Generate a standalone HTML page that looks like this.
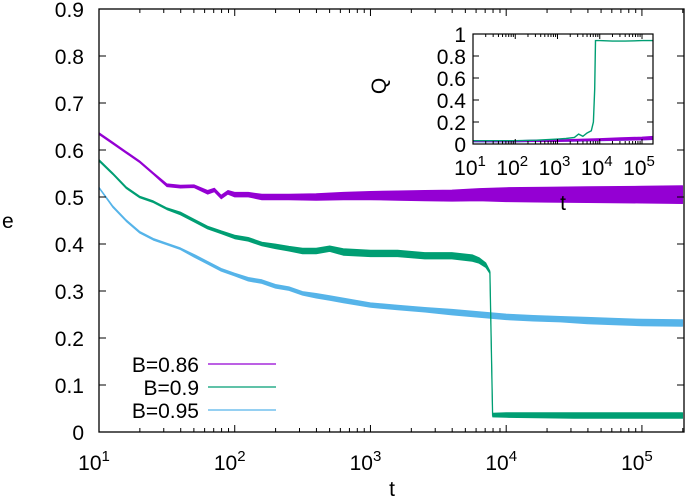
<!DOCTYPE html>
<html><head><meta charset="utf-8"><style>
body{margin:0;background:#fff}
svg{display:block;font-family:"Liberation Sans",sans-serif}
</style></head><body>
<svg id="c" width="685" height="498" viewBox="0 0 685 498"></svg>
<script>
// main series: log10(t), mean e, noise half-amplitude
const tP=[1,1.1,1.2,1.3,1.4,1.5,1.6,1.7,1.8,1.85,1.9,1.95,2.0,2.1,2.2,2.4,2.6,2.8,3.0,3.2,3.4,3.6,3.8,4.0,4.3,4.6,5.0,5.3];
const eP=[0.635,0.615,0.595,0.575,0.55,0.525,0.522,0.523,0.51,0.515,0.50,0.51,0.505,0.505,0.50,0.50,0.50,0.502,0.503,0.503,0.503,0.503,0.505,0.505,0.505,0.505,0.505,0.505];
const aP=[0.002,0.002,0.002,0.002,0.002,0.003,0.003,0.003,0.004,0.004,0.004,0.004,0.005,0.005,0.006,0.006,0.007,0.008,0.009,0.01,0.011,0.012,0.013,0.015,0.016,0.017,0.018,0.019];
const tG=[1,1.1,1.2,1.3,1.4,1.5,1.6,1.7,1.8,1.9,2.0,2.1,2.2,2.3,2.4,2.5,2.6,2.7,2.8,3.0,3.2,3.4,3.6,3.75,3.8,3.85,3.88,3.9,4.0,4.5,5.0,5.3];
const eG=[0.578,0.55,0.52,0.50,0.49,0.475,0.465,0.45,0.435,0.425,0.415,0.41,0.40,0.395,0.39,0.385,0.385,0.39,0.383,0.38,0.38,0.375,0.375,0.37,0.365,0.355,0.34,0.036,0.036,0.035,0.035,0.035];
const aG=[0.002,0.002,0.002,0.002,0.002,0.002,0.003,0.003,0.003,0.003,0.004,0.004,0.004,0.005,0.005,0.006,0.006,0.006,0.007,0.007,0.007,0.007,0.007,0.007,0.006,0.005,0.003,0.004,0.005,0.006,0.006,0.006];
const tB=[1,1.1,1.2,1.3,1.4,1.5,1.6,1.7,1.8,1.9,2.0,2.1,2.2,2.3,2.4,2.5,2.6,2.7,2.8,2.9,3.0,3.2,3.4,3.6,3.8,4.0,4.2,4.4,4.6,4.8,5.0,5.3];
const eB=[0.52,0.48,0.45,0.425,0.41,0.40,0.39,0.375,0.36,0.345,0.335,0.325,0.32,0.31,0.305,0.295,0.29,0.285,0.28,0.275,0.27,0.265,0.26,0.255,0.25,0.245,0.242,0.24,0.237,0.235,0.233,0.232];
const aB=[0.001,0.002,0.002,0.002,0.002,0.002,0.002,0.003,0.003,0.003,0.003,0.004,0.004,0.004,0.004,0.004,0.005,0.005,0.005,0.005,0.005,0.005,0.005,0.006,0.006,0.006,0.006,0.006,0.007,0.007,0.007,0.007];
// inset Q
const qtP=[1,1.5,2,2.5,3,3.5,4,4.5,5,5.26];
const qP=[0.025,0.025,0.025,0.03,0.03,0.035,0.04,0.045,0.05,0.055];
const qaP=[0.004,0.005,0.006,0.007,0.008,0.009,0.01,0.012,0.014,0.015];
const qtB=[1,1.5,2,2.5,3,3.5,4,4.5,5,5.26];
const qB=[0.02,0.02,0.022,0.025,0.028,0.03,0.035,0.04,0.045,0.05];
const qaB=[0.003,0.003,0.004,0.004,0.005,0.006,0.007,0.008,0.009,0.01];
const qtG=[1,1.5,2,2.5,3,3.2,3.4,3.5,3.6,3.7,3.8,3.85,3.88,3.9,4.0,4.3,4.6,5.0,5.26];
const qG=[0.03,0.03,0.03,0.035,0.045,0.05,0.06,0.09,0.07,0.1,0.12,0.2,0.5,0.94,0.94,0.935,0.935,0.94,0.94];
const yTicks=[0,0.1,0.2,0.3,0.4,0.5,0.6,0.7,0.8,0.9];
const yTickLabels=["0","0.1","0.2","0.3","0.4","0.5","0.6","0.7","0.8","0.9"];
const qTicks=[0,0.2,0.4,0.6,0.8,1];
const qTickLabels=["0","0.2","0.4","0.6","0.8","1"];
const xDecades=[1,2,3,4,5];

const NS="http://www.w3.org/2000/svg",svg=document.getElementById('c');
function mk(t,a,p){const e=document.createElementNS(NS,t);for(const k in a)e.setAttribute(k,a[k]);(p||svg).appendChild(e);return e;}
const L=99,R=684,T=9,B=432,LMAX=5.31;
const X=l=>L+(l-1)/(LMAX-1)*(R-L), Y=v=>B-v/0.9*(B-T);
const iL=473,iR=653,iT=34,iB=144,ILMAX=5.26;
const IX=l=>iL+(l-1)/(ILMAX-1)*(iR-iL), IY=v=>iB-v*(iB-iT);

function series(ts,vs,as,fx,fy,col,w,name){
 if(as){const up=ts.map((t,i)=>fx(t).toFixed(1)+','+fy(vs[i]+as[i]).toFixed(1));
  const dn=ts.map((t,i)=>fx(t).toFixed(1)+','+fy(vs[i]-as[i]).toFixed(1)).reverse();
  const b=mk('polygon',{points:up.concat(dn).join(' '),fill:col,stroke:col,'stroke-width':0.8,'stroke-linejoin':'round'});
  
  }
 const p=mk('path',{d:ts.map((t,i)=>(i?'L':'M')+fx(t).toFixed(1)+' '+fy(vs[i]).toFixed(1)).join(''),fill:'none',stroke:col,'stroke-width':w});
 
 }
const cP='#9400d3',cG='#009e73',cB='#56b4e9';
series(tB,eB,aB,X,Y,cB,1.3,'series-b095');
series(tG,eG,aG,X,Y,cG,1.3,'series-b09');
series(tP,eP,aP,X,Y,cP,1.3,'series-b086');

const fr=mk('rect',{x:L,y:T,width:R-L,height:B-T,fill:'none',stroke:'#000','stroke-width':1.3});


yTicks.forEach((v,i)=>{const y=Y(v);mk('line',{x1:L,x2:L+7,y1:y,y2:y,stroke:'#000'});mk('line',{x1:R,x2:R-7,y1:y,y2:y,stroke:'#000'});
const t=mk('text',{x:L-15,y:y+8,'text-anchor':'end','font-size':21});t.textContent=yTickLabels[i];

});
for(let d=1;d<=5;d++){for(let m=1;m<10;m++){const l=d+Math.log10(m);if(l>LMAX)break;const x=X(l),len=m==1?7:4;
mk('line',{x1:x,x2:x,y1:B,y2:B-len,stroke:'#000'});mk('line',{x1:x,x2:x,y1:T,y2:T+len,stroke:'#000'});}}
xDecades.forEach(d=>{const x=X(d);const t=mk('text',{x:x-5,y:470,'text-anchor':'middle','font-size':21});t.innerHTML='10<tspan dy="-9" font-size="15">'+d+'</tspan>';

});
let a=mk('text',{x:392,y:496,'text-anchor':'middle','font-size':21});a.textContent='t';

a=mk('text',{x:2,y:228,'font-size':21});a.textContent='e';


[['B=0.86',cP,364],['B=0.9',cG,387],['B=0.95',cB,410]].forEach(([s,c,y])=>{
const t=mk('text',{x:199,y:y+8,'text-anchor':'end','font-size':21});t.textContent=s;

const l=mk('line',{x1:208,x2:276,y1:y,y2:y,stroke:c,'stroke-width':1.3});
});

// inset
const ib=mk('rect',{x:iL,y:iT,width:iR-iL,height:iB-iT,fill:'#fff',stroke:'none'});

series(qtB,qB,qaB,IX,IY,cB,1.2,'inset-series-b095');
series(qtP,qP,qaP,IX,IY,cP,1.2,'inset-series-b086');
series(qtG,qG,null,IX,IY,cG,1.4,'inset-series-b09');
const ifr=mk('rect',{x:iL,y:iT,width:iR-iL,height:iB-iT,fill:'none',stroke:'#000','stroke-width':1.2});

qTicks.forEach((v,i)=>{const y=IY(v);mk('line',{x1:iL,x2:iL+6,y1:y,y2:y,stroke:'#000'});mk('line',{x1:iR,x2:iR-6,y1:y,y2:y,stroke:'#000'});
const t=mk('text',{x:iL-7,y:y+8,'text-anchor':'end','font-size':21});t.textContent=qTickLabels[i];
});
for(let d=1;d<=5;d++){for(let m=1;m<10;m++){const l=d+Math.log10(m);if(l>ILMAX)break;const x=IX(l),len=m==1?5:3;
mk('line',{x1:x,x2:x,y1:iB,y2:iB-len,stroke:'#000'});mk('line',{x1:x,x2:x,y1:iT,y2:iT+len,stroke:'#000'});}}
xDecades.forEach(d=>{const x=IX(d);const t=mk('text',{x:x-3,y:175,'text-anchor':'middle','font-size':21});t.innerHTML='10<tspan dy="-9" font-size="15">'+d+'</tspan>';
});
a=mk('text',{x:0,y:0,'font-size':21,transform:'translate(386,86) rotate(-90)','text-anchor':'middle'});a.textContent='Q';

a=mk('text',{x:563,y:210,'font-size':21,'text-anchor':'middle'});a.textContent='t';

</script>
</body></html>
